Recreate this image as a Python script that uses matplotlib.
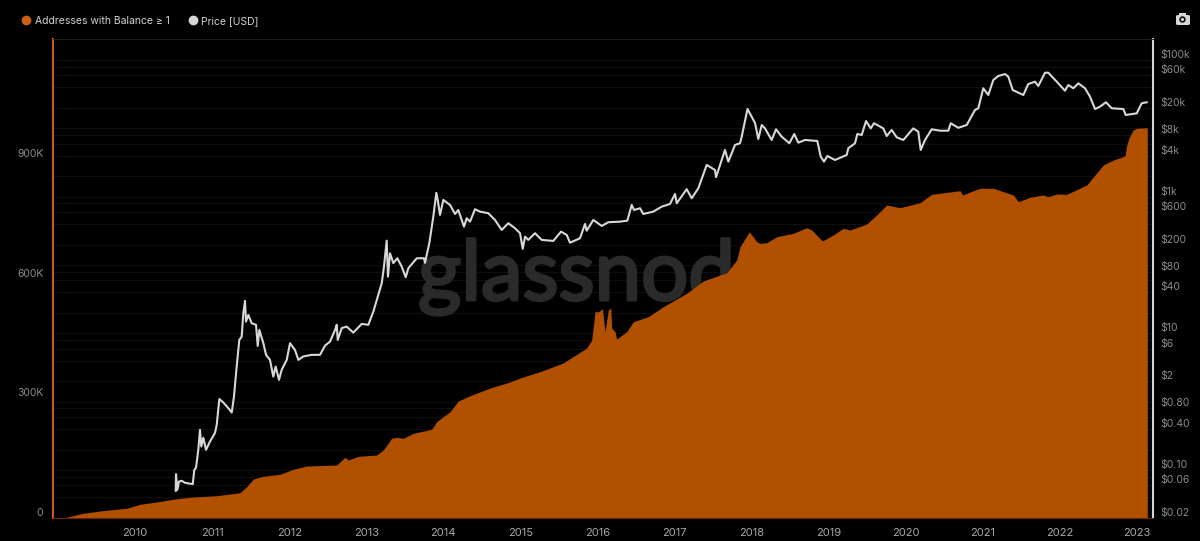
import matplotlib.pyplot as plt
import matplotlib.patheffects as pe
from matplotlib.lines import Line2D
from matplotlib.patches import Circle, FancyBboxPatch, Rectangle

# values: decimal year, USD, thousands of addresses
price_years = [
    2010.528, 2010.532, 2010.549, 2010.571, 2010.606, 2010.649, 2010.749, 2010.769, 2010.791, 2010.821, 2010.843, 2010.860, 2010.886, 2010.921, 2010.973, 2011.038,
    2011.060, 2011.094, 2011.146, 2011.210, 2011.255, 2011.284, 2011.319, 2011.353, 2011.384, 2011.405, 2011.427, 2011.440, 2011.470, 2011.514, 2011.570, 2011.592,
    2011.613, 2011.665, 2011.700, 2011.751, 2011.794, 2011.825, 2011.868, 2011.903, 2011.968, 2012.011, 2012.076, 2012.119, 2012.183, 2012.292, 2012.400, 2012.465,
    2012.530, 2012.595, 2012.617, 2012.630, 2012.682, 2012.746, 2012.832, 2012.941, 2013.027, 2013.092, 2013.156, 2013.201, 2013.230, 2013.265, 2013.282, 2013.308,
    2013.351, 2013.403, 2013.460, 2013.512, 2013.546, 2013.655, 2013.749, 2013.762, 2013.818, 2013.870, 2013.909, 2013.927, 2013.957, 2014.000, 2014.087, 2014.152,
    2014.194, 2014.268, 2014.303, 2014.346, 2014.411, 2014.476, 2014.584, 2014.670, 2014.757, 2014.843, 2014.930, 2014.995, 2015.030, 2015.060, 2015.102, 2015.189,
    2015.276, 2015.427, 2015.527, 2015.601, 2015.643, 2015.773, 2015.838, 2015.860, 2015.946, 2016.055, 2016.140, 2016.292, 2016.387, 2016.444, 2016.474, 2016.552,
    2016.594, 2016.724, 2016.833, 2016.941, 2017.006, 2017.028, 2017.157, 2017.222, 2017.308, 2017.417, 2017.525, 2017.538, 2017.654, 2017.697, 2017.784, 2017.849,
    2017.871, 2017.946, 2018.001, 2018.044, 2018.086, 2018.131, 2018.173, 2018.260, 2018.316, 2018.390, 2018.489, 2018.553, 2018.605, 2018.692, 2018.852, 2018.896,
    2018.939, 2018.982, 2019.081, 2019.233, 2019.254, 2019.341, 2019.371, 2019.428, 2019.484, 2019.545, 2019.587, 2019.708, 2019.752, 2019.817, 2019.882, 2019.968,
    2020.097, 2020.162, 2020.193, 2020.249, 2020.336, 2020.444, 2020.551, 2020.583, 2020.681, 2020.790, 2020.898, 2020.941, 2021.005, 2021.070, 2021.135, 2021.200,
    2021.287, 2021.330, 2021.387, 2021.524, 2021.589, 2021.676, 2021.719, 2021.806, 2021.849, 2021.958, 2022.065, 2022.108, 2022.173, 2022.238, 2022.325, 2022.390,
    2022.455, 2022.519, 2022.597, 2022.671, 2022.822, 2022.853, 2022.996, 2023.060, 2023.125,
]
price_usd = [
    0.05, 0.0877, 0.0517, 0.0684, 0.07, 0.0654, 0.0626, 0.101, 0.108, 0.199, 0.39, 0.222, 0.298, 0.199, 0.263, 0.352, 0.461, 1.1, 0.977, 0.809, 0.698, 1.2, 3.28, 8.06, 9.01,
    19.8, 30, 14.9, 18.7, 14.1, 13.4, 6.59, 11.3, 7.21, 4.87, 4.11, 2.34, 3.28, 2.1, 2.94, 4.11, 7.21, 5.72, 4.11, 4.61, 4.87, 4.87, 6.65, 7.61, 11.3, 13.4, 8.06, 12, 12.6, 10.3, 13.8,
    13.4, 20.9, 36.7, 54.4, 95.1, 228, 67.9, 149, 107, 126, 95.1, 66.5, 90.1, 126, 126, 108, 209, 512, 1140, 898, 542, 898, 759, 560, 641, 365, 485, 432, 657, 606, 574, 458, 327, 410,
    346, 293, 173, 261, 234, 293, 234, 226, 309, 276, 213, 247, 400, 319, 458, 374, 424, 432, 447, 759, 641, 679, 560, 606, 717, 785, 1100, 803, 1290, 951, 1330, 2920,
    2460, 1930, 4830, 3260, 5720, 6060, 7560, 19200, 14800, 12000, 7000, 11200, 10000, 6770, 9700, 7560, 6060,
    8280, 6180, 6770, 6540, 3860, 3260, 3950, 3450, 4080, 5120, 6060, 8280, 8010, 12800, 10000, 11900, 10000,
    7740, 9480, 7410, 6770, 10000, 8950, 4830, 6770, 9700, 9250, 9250, 11900, 10200, 11200, 18600, 19700, 38600,
    30800, 51000, 58400, 62400, 57000, 36400, 30800, 44600, 48200, 41700, 65200, 65200, 48200, 35600, 43100, 38600, 45600,
    38600, 29100, 19200, 20800, 24100, 19700, 19200, 15700, 16600, 23300, 24100,
]
area_years = [
    2009.066, 2009.325, 2009.546, 2009.892, 2010.065, 2010.282, 2010.541, 2010.756, 2011.060, 2011.362, 2011.449, 2011.535, 2011.665, 2011.881, 2012.054, 2012.228,
    2012.617, 2012.724, 2012.767, 2012.897, 2013.136, 2013.221, 2013.330, 2013.395, 2013.481, 2013.611, 2013.849, 2013.914, 2014.087, 2014.194, 2014.346, 2014.606,
    2014.865, 2014.995, 2015.254, 2015.553, 2015.860, 2015.925, 2015.968, 2016.020, 2016.063, 2016.098, 2016.140, 2016.172, 2016.184, 2016.227, 2016.249, 2016.379,
    2016.465, 2016.659, 2016.854, 2017.157, 2017.373, 2017.590, 2017.676, 2017.806, 2017.849, 2017.970, 2018.066, 2018.108, 2018.195, 2018.325, 2018.540, 2018.714,
    2018.779, 2018.917, 2019.059, 2019.189, 2019.276, 2019.493, 2019.622, 2019.752, 2019.925, 2020.184, 2020.336, 2020.703, 2020.738, 2020.876, 2020.963, 2021.135,
    2021.395, 2021.460, 2021.611, 2021.784, 2021.849, 2021.958, 2022.087, 2022.347, 2022.455, 2022.562, 2022.692, 2022.844, 2022.866, 2022.900, 2022.950, 2022.996, 2023.133,
]
area_thousands = [
    0.0, 11.8, 17.6, 24.4, 34.4, 40.2, 48.5, 52.7, 56.0, 63.5, 78.6, 97.9, 104.7, 109.7, 122.3, 130.5, 133.1, 152.4, 145.6, 154.9, 158.2, 170.7, 200.1, 202.6, 200.1, 212.6, 222.7,
    241.8, 266.9, 293.7, 307.0, 326.4, 341.4, 351.5, 367.3, 389.1, 426.8, 446.9, 517.9, 517.9, 526.4, 467.7, 522.2, 527.2, 477.0, 467.7, 449.4, 467.7, 492.8, 505.4, 530.5, 564.1,
    595.0, 610.0, 615.1, 647.7, 681.1, 718.7, 693.6, 689.6, 691.1, 706.2, 714.7, 728.8, 723.0, 695.4, 710.5, 727.3, 723.0, 738.1, 760.7, 785.8, 779.0, 791.5, 812.6, 821.7, 810.9,
    821.7, 827.7, 827.7, 810.9, 794.1, 805.1, 810.9, 806.6, 813.4, 812.6, 836.0, 861.1, 886.2, 898.7, 908.8, 936.4, 956.0, 974.0, 978.3, 979.8,
]
year_ticks = list(range(2010, 2024))
left_ticks = [0, 300, 600, 900]
left_labels = ['0', '300K', '600K', '900K']
right_ticks = [100000, 60000, 20000, 8000, 4000, 1000, 600, 200, 80, 40, 10, 6, 2, 0.8, 0.4, 0.1, 0.06, 0.02]
right_labels = ['$100k', '$60k', '$20k', '$8k', '$4k', '$1k', '$600', '$200', '$80', '$40', '$10', '$6', '$2', '$0.80', '$0.40', '$0.10', '$0.06', '$0.02']
grid_minor = [80000, 40000, 10000, 6000, 2000, 800, 400, 100, 60, 20, 8, 4, 1, 0.6, 0.2, 0.08, 0.04]

W, H = 1200, 541
plt.rcParams['font.family'] = ['Inter', 'DejaVu Sans']

fig = plt.figure(figsize=(12, 5.41), dpi=100, facecolor='black')
ax = fig.add_axes([53 / W, (H - 518) / H, 1100 / W, 479 / H])
ax.set_xlim(2008.936, 2023.207)
ax.set_ylim(0, 1202.5)

# price axis sits underneath so the grid and watermark stay behind the area
ax2 = ax.twinx()
ax.set_zorder(2)
ax2.set_zorder(1)
ax.patch.set_visible(False)
ax2.patch.set_facecolor('black')
ax2.patch.set_visible(True)

ax.fill_between(area_years, area_thousands, color='#b05000', lw=0, zorder=2)
ax.set_xticks(year_ticks, [str(y) for y in year_ticks])
ax.set_yticks(left_ticks, left_labels, va='bottom')
ax.tick_params(axis='x', length=0, pad=7, labelsize=8, labelcolor='#a8a8a8')
ax.tick_params(axis='y', length=0, pad=7, labelsize=7.5, labelcolor='#8c8c8c')

ax2.set_yscale('log')
ax2.set_ylim(0.02, 203000)
ax2.text(418 / W, (H - 300) / H, 'glassnode', transform=fig.transFigure, fontsize=60, family='Lato',
         color='#2a2a2a', va='baseline', ha='left', zorder=1,
         path_effects=[pe.withStroke(linewidth=2.2, foreground='#2a2a2a')])
ax2.plot(price_years, price_usd, color='#d8d8d8', lw=1.5, solid_joinstyle='round', zorder=3)
ax2.set_yticks(right_ticks, right_labels, va='bottom')
ax2.set_yticks(grid_minor, [''] * len(grid_minor), minor=True)
ax2.tick_params(axis='y', which='both', length=0, pad=5, labelsize=7.5, labelcolor='#8c8c8c')
ax2.set_axisbelow(True)
ax2.grid(True, which='both', axis='y', color='#131313', lw=0.6, zorder=0)

for a in (ax, ax2):
    for side in a.spines:
        a.spines[side].set_visible(False)
ax.spines['left'].set_visible(True)
ax.spines['left'].set_color('#c05a28')
ax.spines['left'].set_linewidth(1.5)
ax.spines['top'].set_visible(True)
ax.spines['top'].set_color('#1e1e1e')
ax.spines['top'].set_linewidth(0.7)
ax.spines['bottom'].set_visible(True)
ax.spines['bottom'].set_color('#6b2208')
ax.spines['bottom'].set_linewidth(0.8)
ax2.spines['right'].set_visible(True)
ax2.spines['right'].set_color('#d4d4d4')
ax2.spines['right'].set_linewidth(1.5)

handles = [
    Line2D([], [], ls='', marker='o', ms=6, color='#c9600f', label='Addresses with Balance ≥ 1'),
    Line2D([], [], ls='', marker='o', ms=6, color='#d6d6d6', label='Price [USD]'),
]
fig.legend(handles=handles, loc='center left', bbox_to_anchor=(16 / W, (H - 21) / H), ncol=2, frameon=False,
           fontsize=7.5, labelcolor='#d2d2d2', handletextpad=-0.2, columnspacing=1.25, borderpad=0, borderaxespad=0)

# camera icon, top right
to_fig = fig.transFigure
fig.add_artist(FancyBboxPatch((1176 / W, (H - 25) / H), 14 / W, 10 / H, boxstyle='round,pad=0,rounding_size=0.002',
                              transform=to_fig, fc='#d8d8d8', ec='none'))
fig.add_artist(Rectangle((1179 / W, (H - 16) / H), 7 / W, 3 / H, transform=to_fig, fc='#d8d8d8', ec='none'))
fig.add_artist(Circle((1182.5, H - 19.5), 2.4, transform=None, fc='#d8d8d8', ec='#111111', lw=1.2))

fig.savefig('out.png', dpi=100, facecolor='black')
